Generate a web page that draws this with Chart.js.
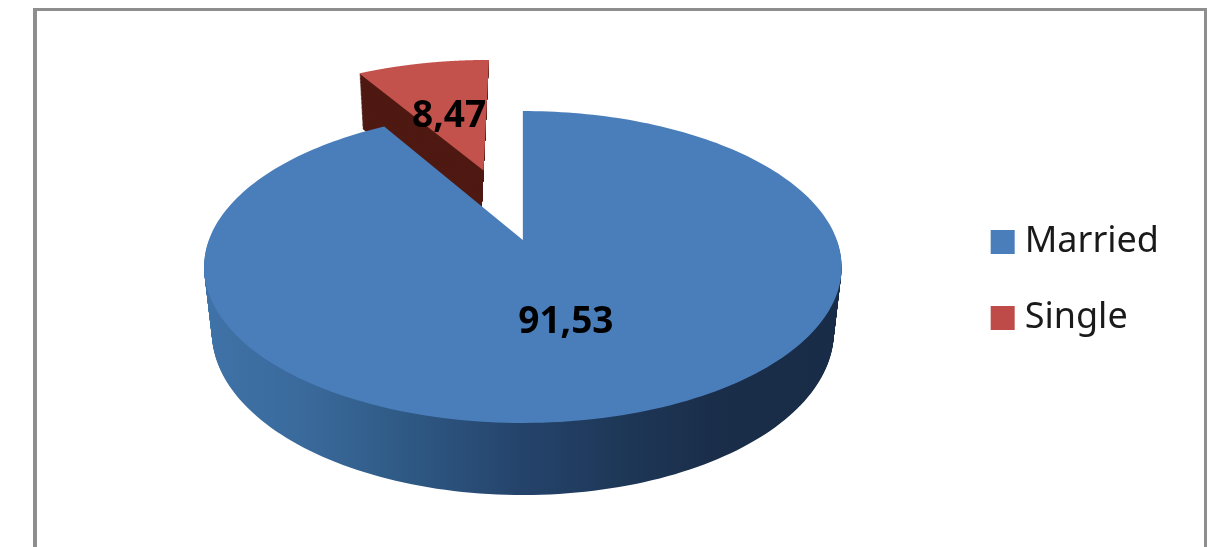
<!DOCTYPE html>
<html>
<head>
<meta charset="utf-8">
<script src="https://cdn.jsdelivr.net/npm/chart.js@4"></script>
<style>
html,body{margin:0;padding:0;background:#fff;overflow:hidden}
#frame{position:absolute;left:33px;top:8px;width:1167px;height:537px;border:solid #8e8e8e;border-width:3px 3px 1px 4px;border-bottom-color:#cfcfcf}
#c{position:absolute;left:0;top:0}
</style>
</head>
<body>
<div id="frame"></div>
<canvas id="c" width="1222" height="547"></canvas>
<script>
const categories = ['Married', 'Single'];
const values = [91.53, 8.47];
const valueLabels = ['91,53', '8,47'];
const topColors = ['#4a7ebb', '#c4524c'];
const legendColors = ['#4a7ebb', '#be4b48'];
const explode = [0, 244];

// Perspective used to tilt the pie
const view = {a: 314, b: 151.3, q: 0.173, r: 0.0243, c: 65.8};

function project(arc, u, v, z) {
  const w = 1 - view.q * v + view.r * z;
  return {
    x: arc.x + view.a * u / w,
    y: arc.y + (view.b * v + view.c * z) / w
  };
}
function sliceOffset(arc) {
  const mid = (arc.startAngle + arc.endAngle) / 2;
  const d = (arc.options.offset || 0) / 4 / arc.outerRadius;
  return {u: Math.cos(mid) * d, v: Math.sin(mid) * d};
}
function tracePath(ctx, arc, z) {
  const o = sliceOffset(arc);
  ctx.beginPath();
  let p = project(arc, o.u, o.v, z);
  ctx.moveTo(p.x, p.y);
  const n = 240;
  for (let i = 0; i <= n; i++) {
    const t = arc.startAngle + (arc.endAngle - arc.startAngle) * i / n;
    p = project(arc, o.u + Math.cos(t), o.v + Math.sin(t), z);
    ctx.lineTo(p.x, p.y);
  }
  ctx.closePath();
}
function sideFill(ctx, arc, index) {
  if (index === 1) return '#4f1a13';
  const left = arc.x - view.a, right = arc.x + view.a;
  const g = ctx.createLinearGradient(left, 0, right, 0);
  g.addColorStop(0.0, '#3f72a7');
  g.addColorStop(0.15, '#3a6a9c');
  g.addColorStop(0.305, '#2f5a85');
  g.addColorStop(0.51, '#24426a');
  g.addColorStop(0.65, '#1e3858');
  g.addColorStop(0.8, '#1a2e4a');
  g.addColorStop(1.0, '#182c47');
  return g;
}
// Keep the extrusion from showing past the wedge's near edge
function clipWall(ctx, arc, index) {
  ctx.beginPath();
  if (index === 0) {
    ctx.rect(0, arc.y, chartWidth, chartHeight);
  } else {
    const o = sliceOffset(arc);
    const a = project(arc, o.u, o.v, 0);
    const b = project(arc, o.u + Math.cos(arc.endAngle), o.v + Math.sin(arc.endAngle), 0);
    const dx = a.x - b.x, dy = a.y - b.y;
    ctx.moveTo(b.x - dx, b.y - dy);
    ctx.lineTo(a.x + dx, a.y + dy);
    ctx.lineTo(0, a.y + dy);
    ctx.lineTo(0, b.y - dy);
    ctx.closePath();
  }
  ctx.clip();
}
const chartWidth = 1222, chartHeight = 547;

const pie3d = {
  id: 'pie3d',
  afterLayout(chart) {
    const l = chart.legend;
    l.left -= 53; l.right -= 53;
    l.top += 40; l.bottom += 40;
  },
  beforeDatasetsDraw(chart) {
    const ctx = chart.ctx;
    const arcs = chart.getDatasetMeta(0).data;
    ctx.save();
    [1, 0].forEach(i => {
      const arc = arcs[i];
      ctx.save();
      clipWall(ctx, arc, i);
      ctx.fillStyle = sideFill(ctx, arc, i);
      for (let k = 70; k >= 1; k--) {
        tracePath(ctx, arc, k / 70);
        ctx.fill();
      }
      ctx.restore();
      tracePath(ctx, arc, 0);
      ctx.fillStyle = topColors[i];
      ctx.fill();
    });
    ctx.fillStyle = '#000';
    ctx.font = 'bold 37px "Noto Sans"';
    ctx.textAlign = 'center';
    ctx.textBaseline = 'middle';
    arcs.forEach((arc, i) => {
      const o = sliceOffset(arc);
      const mid = (arc.startAngle + arc.endAngle) / 2;
      const p = project(arc, o.u + Math.cos(mid) * 0.5, o.v + Math.sin(mid) * 0.5, 0);
      ctx.fillText(valueLabels[i], p.x - 2, p.y + 3);
    });
    ctx.restore();
    return false;
  }
};

new Chart(document.getElementById('c'), {
  type: 'pie',
  data: {
    labels: categories,
    datasets: [{
      data: values,
      backgroundColor: legendColors,
      borderWidth: 0,
      offset: explode
    }]
  },
  options: {
    responsive: false,
    animation: false,
    devicePixelRatio: 1,
    layout: {padding: {left: 34, right: 0, top: 0, bottom: 67}},
    plugins: {
      tooltip: {enabled: false},
      legend: {
        position: 'right',
        labels: {
          usePointStyle: true,
          pointStyle: 'rect',
          boxWidth: 8,
          boxHeight: 24,
          padding: 40,
          color: '#1a1a1a',
          font: {family: '"Noto Sans"', size: 36}
        }
      }
    }
  },
  plugins: [pie3d]
});
</script>
</body>
</html>
